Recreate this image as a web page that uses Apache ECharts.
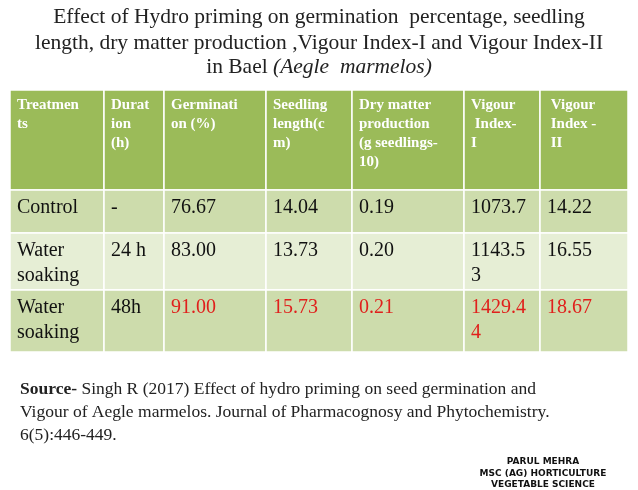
<!DOCTYPE html>
<html><head><meta charset="utf-8">
<script src="https://cdn.jsdelivr.net/npm/echarts@6/dist/echarts.min.js"></script>
<style>html,body{margin:0;background:#fff}#c{width:638px;height:490px}</style>
</head><body><div id="c"></div>
<script>
// table content
const headers = ['Treatmen\nts', 'Durat\nion\n(h)', 'Germinati\non (%)', 'Seedling\nlength(c\nm)',
  'Dry matter\nproduction\n(g seedlings-\n10)', 'Vigour\n Index-\nI', ' Vigour\n Index -\n II'];
const treatments = ['Control', 'Water\nsoaking', 'Water\nsoaking'];
const durations = ['-', '24 h', '48h'];
const germination = ['76.67', '83.00', '91.00'];
const seedlingLength = ['14.04', '13.73', '15.73'];
const dryMatter = ['0.19', '0.20', '0.21'];
const vigourI = ['1073.7', '1143.5\n3', '1429.4\n4'];
const vigourII = ['14.22', '16.55', '18.67'];
const redRow = 2; // best treatment highlighted

// layout (pixels inside table)
const colEdges = [0, 94, 154, 256, 342, 454, 530, 618];
const rowEdges = [0, 100, 143, 200, 262];
const rowFill = ['#9bbb59', '#cddcac', '#e6eed5', '#cddcac'];

const columns = [treatments, durations, germination, seedlingLength, dryMatter, vigourI, vigourII];
const cells = [];
headers.forEach((h, c) => cells.push([c, 0, h]));
for (let r = 0; r < 3; r++) columns.forEach((col, c) => cells.push([c, r + 1, col[r]]));

const chart = echarts.init(document.getElementById('c'));
chart.setOption({
  animation: false,
  grid: { left: 10, top: 90, width: 618, height: 262 },
  xAxis: { type: 'value', min: 0, max: 618, show: false },
  yAxis: { type: 'value', min: 0, max: 262, inverse: true, show: false },
  series: [{
    type: 'custom',
    data: cells,
    renderItem(params, api) {
      const c = api.value(0), r = api.value(1);
      const text = cells[params.dataIndex][2];
      const p0 = api.coord([colEdges[c], rowEdges[r]]);
      const p1 = api.coord([colEdges[c + 1], rowEdges[r + 1]]);
      const header = r === 0;
      const red = r === redRow + 1 && c >= 2;
      return {
        type: 'group',
        children: [
          { type: 'rect', shape: { x: p0[0], y: p0[1], width: p1[0] - p0[0], height: p1[1] - p0[1] },
            style: { fill: rowFill[r], stroke: '#fff', lineWidth: 1.5 } },
          { type: 'text', x: p0[0] + 7, y: p0[1] + (header ? 6 : 5),
            style: { text, fill: header ? '#fff' : (red ? '#e0201c' : '#111'),
              font: header ? 'bold 15px "Liberation Serif"' : '20px "Liberation Serif"',
              lineHeight: header ? 19 : 25 } }
        ]
      };
    }
  }],
  graphic: [
    { type: 'text', left: 'center', top: 6, style: { text: 'Effect of Hydro priming on germination  percentage, seedling',
      font: '21.5px "Liberation Serif"', fill: '#222' } },
    { type: 'text', left: 'center', top: 32, style: { text: 'length, dry matter production ,Vigour Index-I and Vigour Index-II',
      font: '21.5px "Liberation Serif"', fill: '#222' } },
    { type: 'text', left: 'center', top: 56, style: { text: '{n|in Bael }{i|(Aegle  marmelos)}',
      rich: { n: { font: '21.5px "Liberation Serif"', fill: '#222' }, i: { font: 'italic 21.5px "Liberation Serif"', fill: '#222' } } } },
    { type: 'text', left: 20, top: 378, style: {
      text: '{b|Source-} Singh R (2017) Effect of hydro priming on seed germination and\nVigour of Aegle marmelos. Journal of Pharmacognosy and Phytochemistry.\n6(5):446-449.',
      font: '17.5px "Liberation Serif"', fill: '#222', lineHeight: 23,
      rich: { b: { font: 'bold 17.5px "Liberation Serif"', fill: '#222' } } } },
    { type: 'text', x: 543, y: 456, style: { text: 'PARUL MEHRA\nMSC (AG) HORTICULTURE\nVEGETABLE SCIENCE',
      font: 'bold 9px "DejaVu Sans"', fill: '#111', align: 'center', lineHeight: 11.5 } }
  ]
});
</script></body></html>
